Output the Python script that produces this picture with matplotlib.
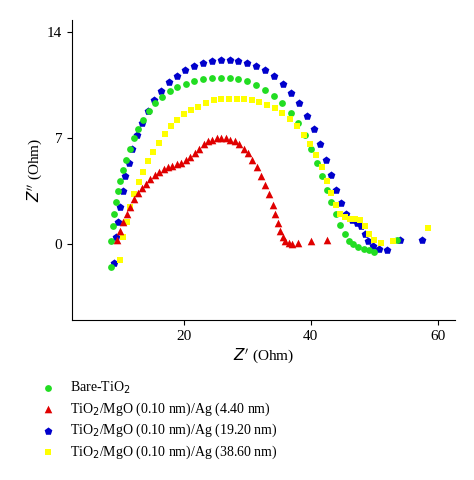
import matplotlib
matplotlib.use("Agg")
import matplotlib.pyplot as plt

plt.rcParams['font.family'] = ['Liberation Serif', 'DejaVu Serif']

bare_x = [8.5,8.5,8.8,9,9.3,9.6,10,10.4,10.9,11.5,12.1,12.8,13.6,14.5,15.5,16.6,17.8,19,20.3,21.6,23,24.4,25.8,27.2,28.6,30,31.4,32.8,34.2,35.5,36.8,38,39.1,40.1,41,41.8,42.5,43.2,43.9,44.6,45.3,46,46.7,47.5,48.3,49.2,50,53.5]
bare_y = [-1.5,0.2,1.2,2,2.8,3.5,4.2,4.9,5.6,6.3,7,7.6,8.2,8.8,9.3,9.7,10.1,10.4,10.6,10.8,10.9,11,11,11,10.9,10.8,10.5,10.2,9.8,9.3,8.7,8,7.2,6.3,5.4,4.5,3.6,2.8,2,1.3,0.7,0.2,0,-0.2,-0.3,-0.4,-0.5,0.3]
red_x = [9.5,10,10.5,11,11.6,12.2,12.8,13.4,14,14.7,15.4,16.1,16.8,17.5,18.2,18.9,19.6,20.3,21,21.7,22.4,23.1,23.8,24.5,25.2,25.9,26.6,27.3,28,28.7,29.4,30.1,30.8,31.5,32.2,32.8,33.4,34,34.4,34.8,35.2,35.6,36,36.5,37,38,40,42.5]
red_y = [0.3,0.9,1.5,2,2.5,3,3.4,3.7,4,4.3,4.6,4.8,5,5.1,5.2,5.3,5.4,5.6,5.8,6,6.3,6.6,6.8,6.9,7,7,7,6.9,6.8,6.6,6.3,6,5.6,5.1,4.5,3.9,3.3,2.6,2,1.4,0.9,0.5,0.2,0.1,0,0.1,0.2,0.3]
blue_x = [9,9.3,9.6,10,10.4,10.8,11.3,11.9,12.6,13.4,14.3,15.3,16.4,17.6,18.9,20.2,21.6,23,24.4,25.8,27.2,28.6,30,31.4,32.8,34.2,35.6,36.9,38.2,39.4,40.5,41.5,42.4,43.2,44,44.8,45.6,46.4,47.2,47.9,48.5,49,49.8,50.8,52,54,57.5]
blue_y = [-1.2,0.5,1.5,2.5,3.5,4.5,5.4,6.3,7.2,8,8.8,9.5,10.1,10.7,11.1,11.5,11.8,12,12.1,12.2,12.2,12.1,12,11.8,11.5,11.1,10.6,10,9.3,8.5,7.6,6.6,5.6,4.6,3.6,2.7,2,1.6,1.4,1.2,0.7,0.2,-0.1,-0.3,-0.4,0.3,0.3]
yel_x = [10,10.5,11,11.6,12.2,12.9,13.6,14.4,15.2,16.1,17,18,19,20.1,21.2,22.3,23.5,24.7,25.9,27.1,28.3,29.5,30.7,31.9,33.1,34.3,35.5,36.7,37.8,38.9,39.9,40.8,41.7,42.5,43.2,43.9,44.6,45.4,46.2,47,47.8,48.5,49.2,50,51,53,58.5]
yel_y = [-1,0.5,1.5,2.5,3.3,4.1,4.8,5.5,6.1,6.7,7.3,7.8,8.2,8.6,8.9,9.1,9.3,9.5,9.6,9.6,9.6,9.6,9.5,9.4,9.2,9,8.7,8.3,7.8,7.2,6.6,5.9,5.1,4.2,3.4,2.6,2,1.8,1.7,1.7,1.6,1.2,0.7,0.3,0.1,0.2,1.1]

labels = ['Bare-TiO$_2$',
          'TiO$_2$/MgO (0.10 nm)/Ag (4.40 nm)',
          'TiO$_2$/MgO (0.10 nm)/Ag (19.20 nm)',
          'TiO$_2$/MgO (0.10 nm)/Ag (38.60 nm)']

fig = plt.figure(figsize=(4.74, 4.8), dpi=100)
ax = fig.add_axes([0.152, 0.333, 0.808, 0.625])
h1 = ax.scatter(bare_x, bare_y, marker='o', s=24, color='#22dd22', zorder=3, linewidths=0)
h2 = ax.scatter(red_x, red_y, marker='^', s=30, color='#e00000', zorder=4, linewidths=0)
h3 = ax.scatter(blue_x, blue_y, marker='p', s=34, color='#0000cc', zorder=2, linewidths=0)
h4 = ax.scatter(yel_x, yel_y, marker='s', s=24, color='#ffff00', zorder=3, linewidths=0)
ax.set_xlim(2.4, 62.7)
ax.set_ylim(-5, 14.8)
ax.set_xticks([20, 40, 60])
ax.set_yticks([0, 7, 14])
ax.spines['top'].set_visible(False)
ax.spines['right'].set_visible(False)
ax.tick_params(labelsize=11)
ax.set_xlabel("$Z'$ (Ohm)", fontsize=11, labelpad=2)
ax.set_ylabel("$Z''$ (Ohm)", fontsize=11, labelpad=2)
fig.legend([h1, h2, h3, h4], labels, loc='upper left', bbox_to_anchor=(0.06, 0.22),
           frameon=False, fontsize=10, handletextpad=0.6, labelspacing=0.3, borderaxespad=0)
fig.savefig('out.png', dpi=100)
